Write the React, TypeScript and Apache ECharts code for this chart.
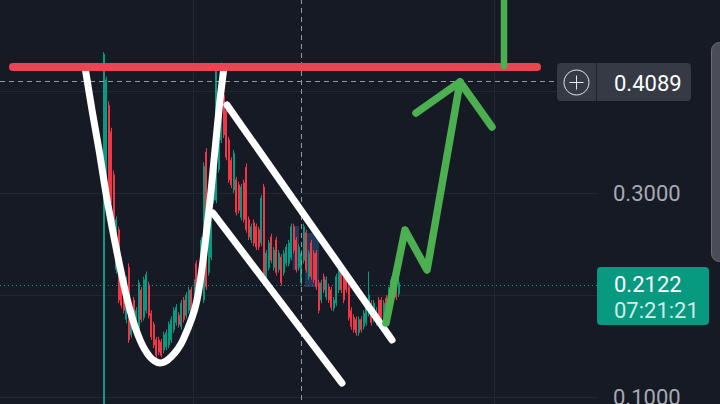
import React, { useEffect, useRef } from "react";
import * as echarts from "echarts";

// bar index of the first candle on the time (bar-index) axis
const firstBar = 41;
// [open, close, low, high]
const candles: number[][] = [
  [0.050, 0.436, 0.048, 0.438],
  [0.313, 0.411, 0.308, 0.414],
  [0.386, 0.300, 0.297, 0.390],
  [0.360, 0.293, 0.290, 0.364],
  [0.318, 0.261, 0.258, 0.322],
  [0.225, 0.274, 0.221, 0.277],
  [0.264, 0.195, 0.192, 0.267],
  [0.234, 0.190, 0.187, 0.237],
  [0.215, 0.185, 0.182, 0.218],
  [0.176, 0.215, 0.172, 0.218],
  [0.227, 0.156, 0.153, 0.231],
  [0.161, 0.185, 0.158, 0.188],
  [0.195, 0.166, 0.163, 0.198],
  [0.166, 0.185, 0.163, 0.188],
  [0.166, 0.212, 0.163, 0.215],
  [0.205, 0.176, 0.173, 0.208],
  [0.178, 0.215, 0.175, 0.218],
  [0.185, 0.220, 0.182, 0.223],
  [0.210, 0.180, 0.177, 0.213],
  [0.182, 0.159, 0.156, 0.185],
  [0.171, 0.151, 0.148, 0.174],
  [0.156, 0.141, 0.138, 0.159],
  [0.156, 0.144, 0.141, 0.159],
  [0.154, 0.141, 0.139, 0.157],
  [0.146, 0.161, 0.143, 0.164],
  [0.149, 0.163, 0.146, 0.166],
  [0.151, 0.171, 0.148, 0.174],
  [0.156, 0.176, 0.153, 0.179],
  [0.166, 0.185, 0.163, 0.188],
  [0.173, 0.188, 0.170, 0.191],
  [0.180, 0.171, 0.168, 0.183],
  [0.169, 0.192, 0.166, 0.195],
  [0.195, 0.176, 0.173, 0.198],
  [0.180, 0.200, 0.177, 0.203],
  [0.185, 0.205, 0.182, 0.208],
  [0.205, 0.176, 0.173, 0.208],
  [0.195, 0.215, 0.192, 0.218],
  [0.231, 0.205, 0.202, 0.234],
  [0.218, 0.193, 0.190, 0.221],
  [0.222, 0.254, 0.219, 0.257],
  [0.195, 0.326, 0.192, 0.330],
  [0.340, 0.208, 0.205, 0.344],
  [0.222, 0.264, 0.219, 0.267],
  [0.237, 0.310, 0.234, 0.313],
  [0.293, 0.339, 0.290, 0.342],
  [0.293, 0.421, 0.290, 0.424],
  [0.323, 0.391, 0.320, 0.394],
  [0.352, 0.425, 0.349, 0.428],
  [0.396, 0.357, 0.354, 0.399],
  [0.381, 0.335, 0.332, 0.384],
  [0.352, 0.313, 0.310, 0.355],
  [0.332, 0.308, 0.305, 0.335],
  [0.303, 0.339, 0.300, 0.342],
  [0.313, 0.281, 0.278, 0.316],
  [0.308, 0.283, 0.280, 0.311],
  [0.276, 0.306, 0.273, 0.309],
  [0.310, 0.274, 0.271, 0.313],
  [0.325, 0.264, 0.261, 0.329],
  [0.274, 0.257, 0.254, 0.277],
  [0.254, 0.267, 0.251, 0.270],
  [0.271, 0.251, 0.248, 0.274],
  [0.267, 0.247, 0.244, 0.270],
  [0.264, 0.247, 0.244, 0.267],
  [0.251, 0.295, 0.248, 0.298],
  [0.306, 0.212, 0.209, 0.309],
  [0.212, 0.241, 0.209, 0.244],
  [0.227, 0.251, 0.224, 0.254],
  [0.257, 0.234, 0.231, 0.260],
  [0.227, 0.244, 0.224, 0.247],
  [0.254, 0.222, 0.219, 0.257],
  [0.225, 0.241, 0.222, 0.244],
  [0.237, 0.212, 0.209, 0.240],
  [0.222, 0.241, 0.219, 0.244],
  [0.231, 0.247, 0.228, 0.250],
  [0.231, 0.251, 0.228, 0.254],
  [0.237, 0.267, 0.234, 0.270],
  [0.267, 0.244, 0.241, 0.270],
  [0.254, 0.225, 0.222, 0.257],
  [0.227, 0.247, 0.224, 0.250],
  [0.212, 0.241, 0.209, 0.244],
  [0.234, 0.267, 0.231, 0.270],
  [0.261, 0.225, 0.222, 0.264],
  [0.218, 0.241, 0.215, 0.244],
  [0.251, 0.218, 0.215, 0.254],
  [0.241, 0.215, 0.212, 0.244],
  [0.241, 0.208, 0.205, 0.244],
  [0.212, 0.185, 0.182, 0.215],
  [0.195, 0.212, 0.192, 0.215],
  [0.218, 0.205, 0.202, 0.221],
  [0.198, 0.215, 0.195, 0.218],
  [0.208, 0.195, 0.192, 0.211],
  [0.205, 0.188, 0.185, 0.208],
  [0.187, 0.195, 0.184, 0.198],
  [0.192, 0.218, 0.189, 0.221],
  [0.205, 0.231, 0.202, 0.234],
  [0.225, 0.205, 0.202, 0.228],
  [0.218, 0.195, 0.192, 0.221],
  [0.215, 0.205, 0.202, 0.218],
  [0.208, 0.178, 0.175, 0.211],
  [0.185, 0.169, 0.166, 0.188],
  [0.178, 0.166, 0.163, 0.181],
  [0.176, 0.163, 0.160, 0.179],
  [0.163, 0.176, 0.160, 0.179],
  [0.176, 0.166, 0.163, 0.179],
  [0.169, 0.182, 0.166, 0.185],
  [0.173, 0.192, 0.170, 0.195],
  [0.182, 0.200, 0.179, 0.223],
  [0.192, 0.173, 0.170, 0.195],
  [0.176, 0.192, 0.173, 0.195],
  [0.173, 0.185, 0.170, 0.188],
  [0.195, 0.178, 0.175, 0.198],
  [0.195, 0.178, 0.175, 0.198],
  [0.176, 0.192, 0.173, 0.195],
  [0.197, 0.178, 0.175, 0.200],
  [0.182, 0.205, 0.179, 0.208],
  [0.195, 0.215, 0.192, 0.218],
  [0.198, 0.212, 0.195, 0.215],
  [0.208, 0.198, 0.195, 0.211],
  [0.201, 0.2122, 0.198, 0.216],
];

const lastPrice = 0.2122;
const countdown = "07:21:21";
const crossPrice = 0.4089;
const crossBar = 119.9;
const verticalGridBars = [76.7, 197.1];
const highlightZones = [
  [116.6, 119.1, 0.2676, 0.2245],
  [121.5, 127.1, 0.2608, 0.2078],
];

// hand-drawn annotations: [bar index, price]
const resistanceLine = [[4.7, 0.4235], [214.3, 0.4235]];
const cupCurve = [
  [33.5, 0.4235], [36.3, 0.3814], [39.1, 0.3422], [42.7, 0.2882],
  [47.5, 0.2275], [51.5, 0.1853], [55.5, 0.1559], [59.5, 0.1392],
  [63.5, 0.1333], [67.9, 0.1392], [72.7, 0.1559], [78.3, 0.1951],
  [83.1, 0.2833], [85.5, 0.3422], [87.5, 0.3912], [89.1, 0.4235],
];
const upperChannel = [[90.3, 0.3863], [156.3, 0.1559]];
const lowerChannel = [[84.7, 0.2804], [136.3, 0.1137]];
const projection = [[153.9, 0.1725], [161.5, 0.2637], [170.3, 0.2245], [183.5, 0.4088]];
const arrowHead = [[165.9, 0.3784], [183.5, 0.4088], [196.3, 0.3647]];
const breakoutLine = [[201.1, 0.4245], [201.1, 0.4941]];

const BG = "#161a25";
const GRID = "#232733";
const UP = "#089981";
const DOWN = "#f23645";

function annotation(data: number[][], color: string, width: number, z: number, smooth = 0) {
  return {
    type: "line",
    data,
    symbol: "none",
    showSymbol: false,
    smooth,
    silent: true,
    z,
    lineStyle: { color, width, cap: "round", join: "round" },
  };
}

export default function App() {
  const ref = useRef<HTMLDivElement>(null);
  useEffect(() => {
    if (!ref.current) return;
    const chart = echarts.init(ref.current, undefined, { renderer: "svg" });
    const candleData = candles.map((c, k) => [firstBar + k, c[0], c[1], c[2], c[3]]);
    const font = "Roboto, 'Noto Sans', sans-serif";
    chart.setOption({
      animation: false,
      backgroundColor: BG,
      grid: {
        left: 0,
        top: -11,
        width: 597.5,
        height: 510,
        containLabel: false,
        outerBoundsMode: "none",
      },
      xAxis: {
        type: "value",
        min: -0.5,
        max: 238.5,
        show: false,
        splitLine: { show: false },
      },
      yAxis: {
        type: "value",
        position: "right",
        min: 0,
        max: 0.5,
        interval: 0.1,
        axisLine: { show: false },
        axisTick: { show: false },
        splitLine: { show: true, lineStyle: { color: GRID, width: 1 } },
        axisLabel: {
          // labels under the price tags or outside the visible window are not drawn
          formatter: (v: number) =>
            v > 0.48 || v < 0.05 || Math.abs(v - crossPrice) < 0.02 || Math.abs(v - lastPrice) < 0.03
              ? ""
              : v.toFixed(4),
          color: "#a6a9b2",
          fontSize: 22,
          fontFamily: font,
          margin: 15.5,
        },
      },
      series: [
        {
          type: "line",
          data: [],
          silent: true,
          z: 1,
          markLine: {
            silent: true,
            symbol: "none",
            label: { show: false },
            lineStyle: { color: GRID, width: 1, type: "solid" },
            data: verticalGridBars.map((b) => ({ xAxis: b })),
          },
        },
        {
          type: "candlestick",
          data: candleData,
          encode: { x: 0, y: [1, 2, 3, 4] },
          barWidth: 1.5,
          silent: true,
          z: 2,
          itemStyle: {
            color: UP,
            color0: DOWN,
            borderColor: UP,
            borderColor0: DOWN,
            borderWidth: 1,
          },
          markArea: {
            silent: true,
            itemStyle: { color: "rgba(60,130,210,0.3)" },
            data: highlightZones.map((h) => [
              { xAxis: h[0], yAxis: h[2] },
              { xAxis: h[1], yAxis: h[3] },
            ]),
          },
          markLine: {
            silent: true,
            symbol: "none",
            label: { show: false },
            data: [
              { yAxis: lastPrice, lineStyle: { color: UP, width: 1, type: [1, 3] } },
              { yAxis: crossPrice, lineStyle: { color: "#9598a1", width: 1, type: [5, 4] } },
              { xAxis: crossBar, lineStyle: { color: "#9598a1", width: 1, type: [5, 4] } },
            ],
          },
        },
        annotation(cupCurve, "#ffffff", 7, 5, 0.3),
        annotation(upperChannel, "#ffffff", 7, 5),
        annotation(lowerChannel, "#ffffff", 7, 5),
        annotation(resistanceLine, "#ee4452", 8, 6),
        annotation(projection, "#4caf50", 7.5, 7),
        annotation(arrowHead, "#4caf50", 7.5, 7),
        annotation(breakoutLine, "#4caf50", 6.5, 7),
      ],
      graphic: [
        {
          type: "rect",
          z: 100,
          shape: { x: 711.5, y: 42.5, width: 24, height: 219, r: 8 },
          style: { fill: "#4a4d57", stroke: "#6b6e78", lineWidth: 1 },
        },
        {
          type: "rect",
          z: 100,
          shape: { x: 557, y: 63, width: 134, height: 38, r: 4 },
          style: { fill: "#363a45" },
        },
        {
          type: "line",
          z: 101,
          shape: { x1: 596.5, y1: 63, x2: 596.5, y2: 101 },
          style: { stroke: "#1f232e", lineWidth: 1 },
        },
        {
          type: "circle",
          z: 101,
          shape: { cx: 576.5, cy: 82.5, r: 12.5 },
          style: { fill: "none", stroke: "#e6e8ee", lineWidth: 1 },
        },
        {
          type: "line",
          z: 101,
          shape: { x1: 569.5, y1: 82.5, x2: 583.5, y2: 82.5 },
          style: { stroke: "#e6e8ee", lineWidth: 1 },
        },
        {
          type: "line",
          z: 101,
          shape: { x1: 576.5, y1: 75.5, x2: 576.5, y2: 89.5 },
          style: { stroke: "#e6e8ee", lineWidth: 1 },
        },
        {
          type: "text",
          z: 101,
          x: 614,
          y: 83,
          style: {
            text: crossPrice.toFixed(4),
            fill: "#ffffff",
            fontSize: 22,
            fontFamily: font,
            align: "left",
            verticalAlign: "middle",
          },
        },
        {
          type: "rect",
          z: 100,
          shape: { x: 597, y: 267, width: 112, height: 58, r: 4 },
          style: { fill: UP },
        },
        {
          type: "text",
          z: 101,
          x: 614,
          y: 284,
          style: {
            text: lastPrice.toFixed(4),
            fill: "#ffffff",
            fontSize: 22,
            fontFamily: font,
            align: "left",
            verticalAlign: "middle",
          },
        },
        {
          type: "text",
          z: 101,
          x: 614,
          y: 310,
          style: {
            text: countdown,
            fill: "rgba(255,255,255,0.82)",
            fontSize: 22,
            fontFamily: font,
            align: "left",
            verticalAlign: "middle",
          },
        },
      ],
    });
    return () => chart.dispose();
  }, []);
  return (
    <div
      ref={ref}
      style={{ position: "fixed", left: 0, top: 0, width: 720, height: 404, background: BG }}
    />
  );
}
